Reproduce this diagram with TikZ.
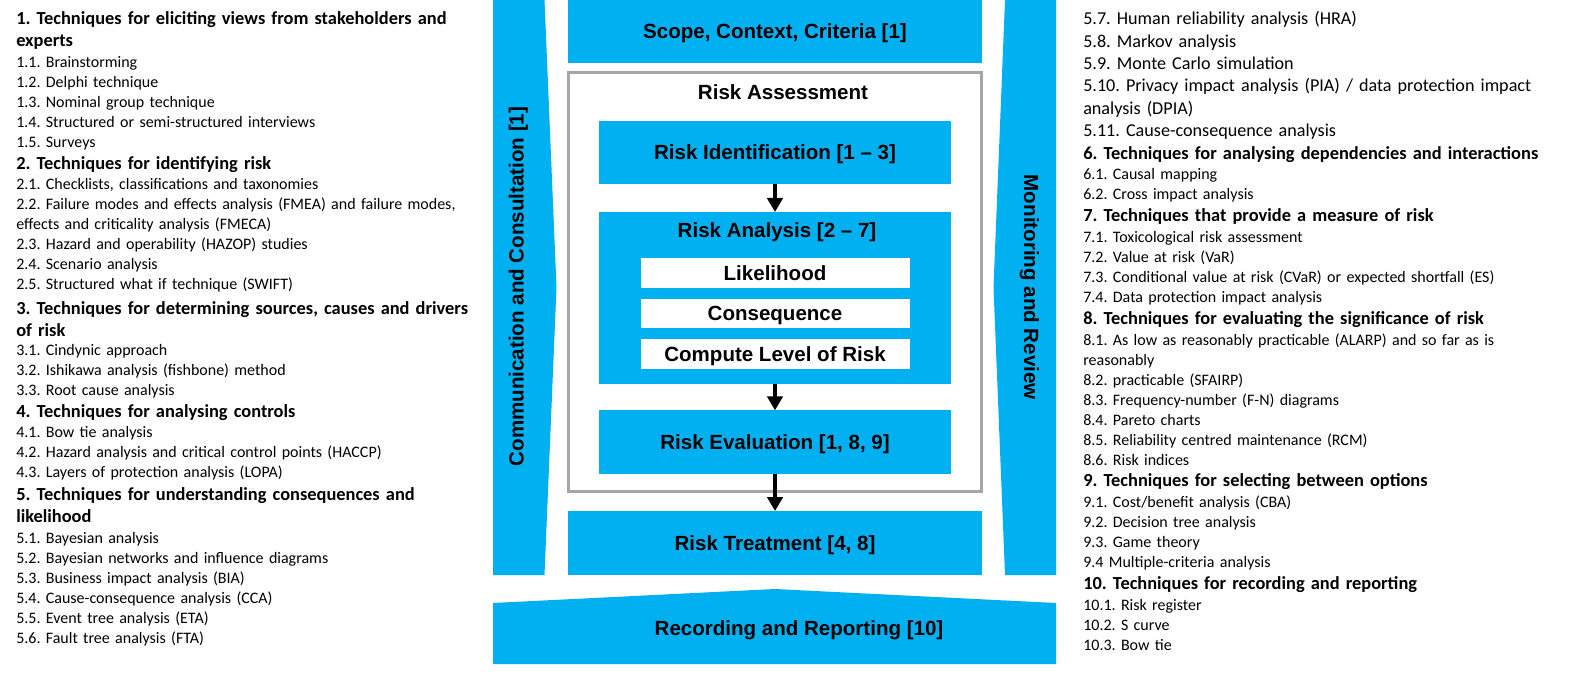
\documentclass[tikz,border=0pt]{standalone}
\usepackage{fontspec}
\setmainfont{Carlito}
\newfontfamily\arialfont{Liberation Sans}
\usepackage{tikz}
\usetikzlibrary{positioning,arrows.meta}
\definecolor{RiskBlue}{HTML}{00B0F0}
\definecolor{FrameGray}{HTML}{A6A6A6}
\frenchspacing

\begin{document}
\begin{tikzpicture}[x=0.75pt, y=-0.75pt,
  boxfont/.style={font=\arialfont\bfseries\fontsize{15.4}{18}\selectfont, text height=11pt, text depth=0pt},
  stage/.style={boxfont, fill=RiskBlue, inner sep=0, outer sep=0, minimum width=264pt, minimum height=47.5pt},
  factor/.style={boxfont, fill=white, inner sep=0, outer sep=0, minimum width=201.75pt, minimum height=22pt},
  title/.style={boxfont, inner sep=0, outer sep=0},
  frame/.style={draw=FrameGray, line width=2.25pt, inner sep=0, outer sep=0},
  band/.style={fill=RiskBlue},
  flow/.style={-{Triangle[width=11.5pt,length=10.5pt]}, line width=3.5pt},
  head/.style={anchor=base west, inner sep=0, text width=400pt, align=left, font=\frenchspacing\bfseries\fontsize{13.8}{16.5}\selectfont},
  item/.style={anchor=base west, inner sep=0, text width=400pt, align=left, font=\frenchspacing\fontsize{12}{15}\selectfont},
  bigitem/.style={item, font=\frenchspacing\fontsize{13.6}{16.7}\selectfont}]
\useasboundingbox (0,0) rectangle (1569,691);

% side bands and bottom band
\fill[band] (493,0) -- (544.5,0) -- (556.5,287.5) -- (544.5,575) -- (493,575) -- cycle;
\fill[band] (1056,0) -- (1005,0) -- (993.5,287.5) -- (1005,575) -- (1056,575) -- cycle;
\fill[band] (493,603) -- (775,589) -- (1056,603) -- (1056,664) -- (493,664) -- cycle;
\node[title, rotate=90, anchor=base] (consult) at (523.5,286.5) {Communication and Consultation [1]};
\node[title, rotate=-90, anchor=base] (monitor) at (1024,287.2) {Monitoring and Review};
\node[title] (record) at (799,627.7) {Recording and Reporting [10]};

% process column
\node[stage, minimum width=310.5pt, minimum height=47pt] (scope) at (775,31.25) {Scope, Context, Criteria [1]};
\node[frame, minimum width=309.75pt, minimum height=314.25pt] (assess) at (775,282) {};
\node[title] (assesstitle) at (783,92.6) {Risk Assessment};
\node[stage] (ident) at (775,152.5) {Risk Identification [1 – 3]};
\node[stage, minimum height=129pt] (analysis) at (775,298) {};
\node[title] (analysistitle) at (777,230.3) {Risk Analysis [2 – 7]};
\node[factor] (likely) at (775,273) {Likelihood};
\node[factor] (conseq) at (775,313.5) {Consequence};
\node[factor] (level) at (775,354) {Compute Level of Risk};
\node[stage] (evaluation) at (775,442) {Risk Evaluation [1, 8, 9]};
\node[stage, minimum width=310.5pt, minimum height=48pt] (treatment) at (775,543) {Risk Treatment [4, 8]};
\draw[flow] (ident) -- (analysis);
\draw[flow] (analysis) -- (evaluation);
\draw[flow] (evaluation) -- (treatment);

% left list of techniques
\node[head] (h1) at (16,25) {1. Techniques for eliciting views from stakeholders and\\experts};
\node[item] (l1) at (16,68) {1.1. Brainstorming\\1.2. Delphi technique\\1.3. Nominal group technique\\1.4. Structured or semi-structured interviews\\1.5. Surveys};
\node[head] (h2) at (16,170) {2. Techniques for identifying risk};
\node[item] (l2) at (16,190) {2.1. Checklists, classifications and taxonomies\\2.2. Failure modes and effects analysis (FMEA) and failure modes,\\effects and criticality analysis (FMECA)\\2.3. Hazard and operability (HAZOP) studies\\2.4. Scenario analysis\\2.5. Structured what if technique (SWIFT)};
\node[head] (h3) at (16,315) {3. Techniques for determining sources, causes and drivers\\of risk};
\node[item] (l3) at (16,355) {3.1. Cindynic approach\\3.2. Ishikawa analysis (fishbone) method\\3.3. Root cause analysis};
\node[head] (h4) at (16,417) {4. Techniques for analysing controls};
\node[item] (l4) at (16,437) {4.1. Bow tie analysis\\4.2. Hazard analysis and critical control points (HACCP)\\4.3. Layers of protection analysis (LOPA)};
\node[head] (h5) at (16,500) {5. Techniques for understanding consequences and\\likelihood};
\node[item] (l5) at (16,543) {5.1. Bayesian analysis\\5.2. Bayesian networks and influence diagrams\\5.3. Business impact analysis (BIA)\\5.4. Cause-consequence analysis (CCA)\\5.5. Event tree analysis (ETA)\\5.6. Fault tree analysis (FTA)};

% right list of techniques
\node[bigitem] (r5) at (1083,25) {5.7. Human reliability analysis (HRA)\\5.8. Markov analysis\\5.9. Monte Carlo simulation\\5.10. Privacy impact analysis (PIA) / data protection impact\\analysis (DPIA)\\5.11. Cause-consequence analysis};
\node[head] (h6) at (1083,159.3) {6. Techniques for analysing dependencies and interactions};
\node[item] (l6) at (1083,180) {6.1. Causal mapping\\6.2. Cross impact analysis};
\node[head] (h7) at (1083,221.7) {7. Techniques that provide a measure of risk};
\node[item] (l7) at (1083,242.3) {7.1. Toxicological risk assessment\\7.2. Value at risk (VaR)\\7.3. Conditional value at risk (CVaR) or expected shortfall (ES)\\7.4. Data protection impact analysis};
\node[head] (h8) at (1083,324.3) {8. Techniques for evaluating the significance of risk};
\node[item] (l8) at (1083,345) {8.1. As low as reasonably practicable (ALARP) and so far as is\\reasonably\\8.2. practicable (SFAIRP)\\8.3. Frequency-number (F-N) diagrams\\8.4. Pareto charts\\8.5. Reliability centred maintenance (RCM)\\8.6. Risk indices};
\node[head] (h9) at (1083,486.7) {9. Techniques for selecting between options};
\node[item] (l9) at (1083,507.7) {9.1. Cost/benefit analysis (CBA)\\9.2. Decision tree analysis\\9.3. Game theory\\9.4 Multiple-criteria analysis};
\node[head] (h10) at (1083,589.3) {10. Techniques for recording and reporting};
\node[item] (l10) at (1083,610) {10.1. Risk register\\10.2. S curve\\10.3. Bow tie};
\end{tikzpicture}
\end{document}
